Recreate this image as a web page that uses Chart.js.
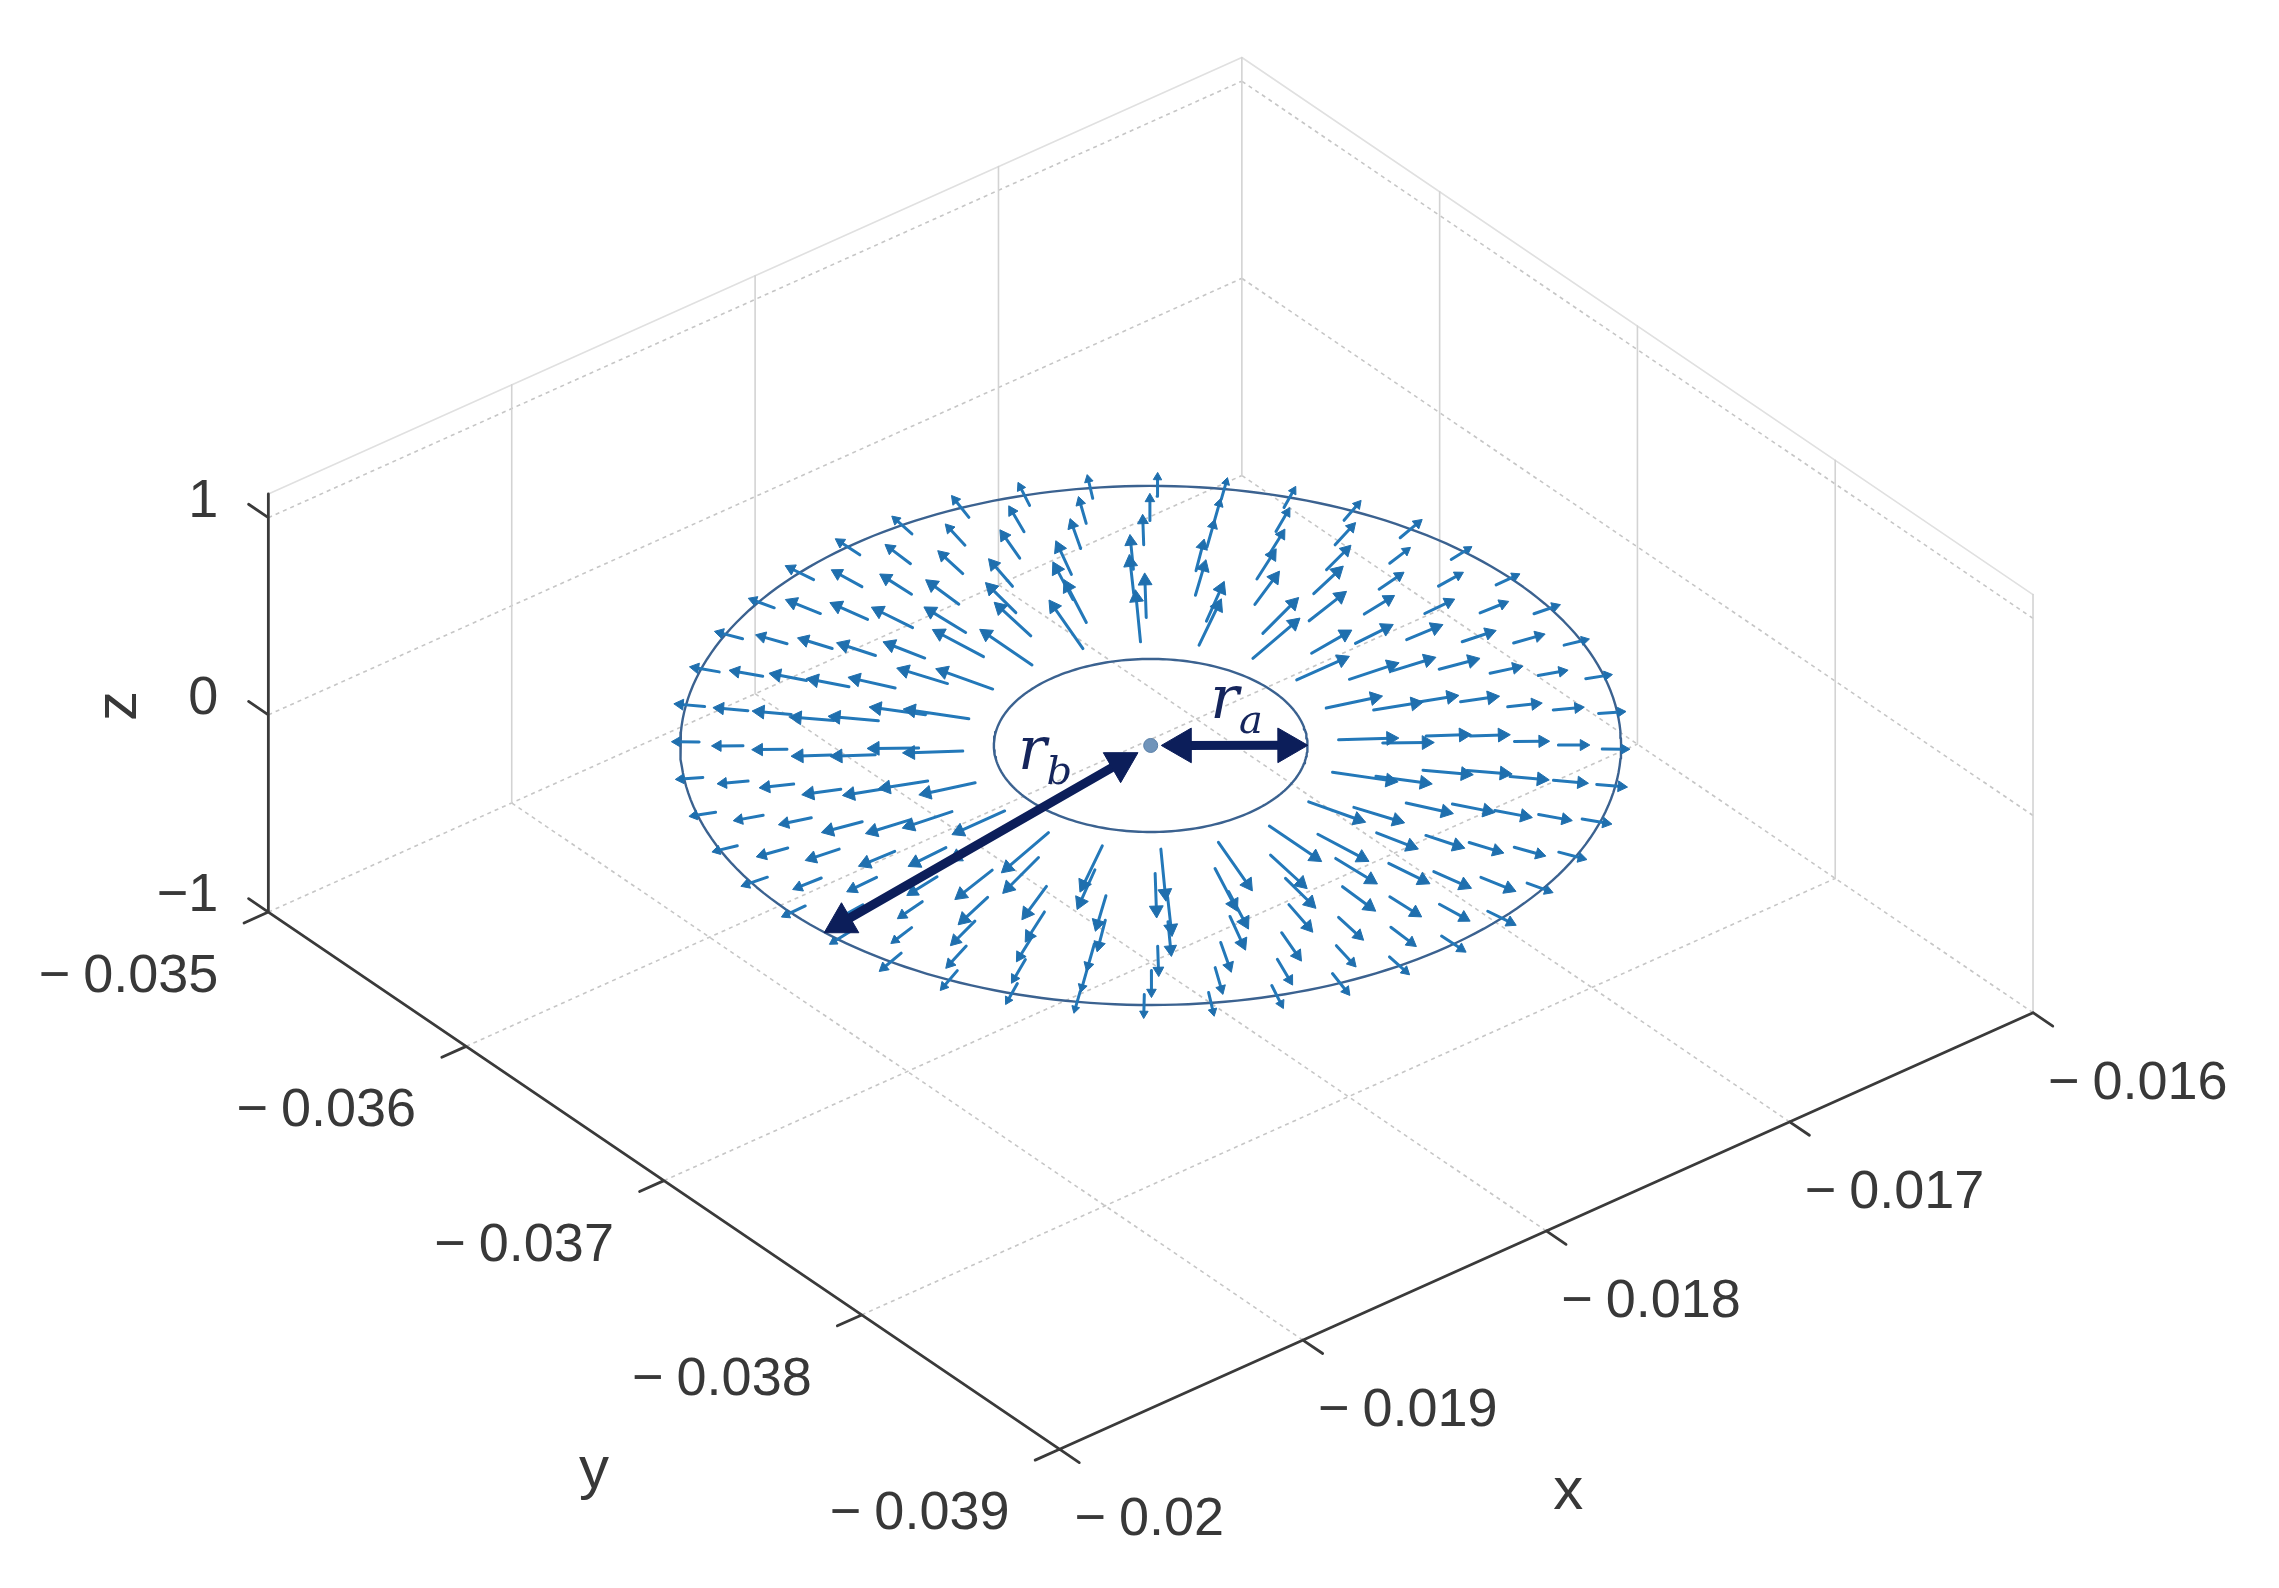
<!DOCTYPE html>
<html><head><meta charset="utf-8">
<script src="https://cdn.jsdelivr.net/npm/chart.js@4.4.1/dist/chart.umd.min.js"></script>
<style>
html,body{margin:0;padding:0;background:#fff;}
#wrap{position:relative;width:2279px;height:1588px;overflow:hidden;background:#fff;}
#c{position:absolute;left:0;top:0;}
.lbl{position:absolute;font-family:"Liberation Sans",Arial,Helvetica,sans-serif;color:#383838;white-space:nowrap;line-height:1;}
.ann{position:absolute;font-family:"DejaVu Serif","Liberation Serif",serif;font-style:italic;color:#15255c;white-space:nowrap;line-height:1;}
.ann sub{font-size:40px;vertical-align:-15px;font-style:italic;}
</style></head><body>
<div id="wrap"><canvas id="c" width="2279" height="1588"></canvas></div>
<script>
// ---------------- data ----------------
const X_LIM = [-0.020, -0.016];
const Y_LIM = [-0.039, -0.035];
const Z_LIM = [-1, 1];
const Z_BOX_TOP = 1.12;
const X_TICKS = [-0.020, -0.019, -0.018, -0.017, -0.016];
const Y_TICKS = [-0.039, -0.038, -0.037, -0.036, -0.035];
const Z_TICKS = [-1, 0, 1];
const X_TICK_LABELS = ['0.02', '0.019', '0.018', '0.017', '0.016'];
const Y_TICK_LABELS = ['0.039', '0.038', '0.037', '0.036', '0.035'];
const Z_TICK_LABELS = ['−1', '0', '1'];
const AXIS_LABELS = ['x', 'y', 'z'];

const DISC_CENTER = [-0.018, -0.037];
const DISC_Z = 0.1;
const R_INNER = 0.0005;
const R_OUTER = 0.0015;

const RING_RADII = [0.00060, 0.00074, 0.00088, 0.00102, 0.00116, 0.00130, 0.00144];
const RING_COUNTS = [20, 24, 28, 32, 36, 40, 44];
const RING_PHASE_DEG = [0, 7, 3, 9, 2, 6, 1];
const RING_ARROW_LEN = [0.00024, 0.000205, 0.00018, 0.00016, 0.00014, 0.000125, 0.00011];
const SECTOR_ANGLE_DEG = [0, 30, 60, 90, 120, 150, 180, 210, 240, 270, 300, 330];
const SECTOR_LEN_FACTOR = [0.9, 1.15, 1.25, 1.1, 0.9, 0.8, 0.9, 1.15, 1.25, 1.1, 0.9, 0.8];

// annotation arrows r_a and r_b
const ANNOT_NAMES = ['a', 'b'];
const ANNOT_ANGLE_DEG = [-39, 187];
const ANNOT_R_START = [0.000035, 0.00006];
const ANNOT_R_END = [R_INNER, R_OUTER];

// ---------------- view ----------------
const VIEW = {az: 39.1, el: 33.8, Lx: 1278, Ly: 1278, Lz: 487.5};
function proj(x, y, z) {
  const xn = (x - X_LIM[0]) / (X_LIM[1] - X_LIM[0]);
  const yn = (y - Y_LIM[0]) / (Y_LIM[1] - Y_LIM[0]);
  const zn = (z - Z_LIM[0]) / (Z_LIM[1] - Z_LIM[0]);
  const a = VIEW.az * Math.PI / 180, e = VIEW.el * Math.PI / 180;
  const u = VIEW.Lx * Math.cos(a) * xn - VIEW.Ly * Math.sin(a) * yn;
  const v = (VIEW.Lx * Math.sin(a) * xn + VIEW.Ly * Math.cos(a) * yn) * Math.sin(e) + VIEW.Lz * Math.cos(e) * zn;
  return {x: u, y: v};
}
const GAP = {x: NaN, y: null};
function seg(arr, p, q) { arr.push(proj(...p), proj(...q), GAP); }

const x0 = X_LIM[0], x1 = X_LIM[1], y0 = Y_LIM[0], y1 = Y_LIM[1], zb = Z_LIM[0];
const TICK = 0.0001;

// grid (dashed, non-vertical)
const gridDashed = [];
X_TICKS.slice(1, -1).forEach(xt => seg(gridDashed, [xt, y0, zb], [xt, y1, zb]));
Y_TICKS.slice(1, -1).forEach(yt => seg(gridDashed, [x0, yt, zb], [x1, yt, zb]));
seg(gridDashed, [x0, y1, zb], [x1, y1, zb]);
seg(gridDashed, [x1, y0, zb], [x1, y1, zb]);
Z_TICKS.slice(1).forEach(zt => { seg(gridDashed, [x0, y1, zt], [x1, y1, zt]); seg(gridDashed, [x1, y0, zt], [x1, y1, zt]); });
// grid vertical (solid)
const gridVert = [];
X_TICKS.slice(1, -1).forEach(xt => seg(gridVert, [xt, y1, zb], [xt, y1, Z_BOX_TOP]));
Y_TICKS.slice(1, -1).forEach(yt => seg(gridVert, [x1, yt, zb], [x1, yt, Z_BOX_TOP]));
seg(gridVert, [x1, y1, zb], [x1, y1, Z_BOX_TOP]);
seg(gridVert, [x1, y0, zb], [x1, y0, Z_BOX_TOP]);
// box top edges
const boxTop = [];
seg(boxTop, [x0, y1, Z_BOX_TOP], [x1, y1, Z_BOX_TOP]);
seg(boxTop, [x1, y0, Z_BOX_TOP], [x1, y1, Z_BOX_TOP]);
// axes + ticks
const axes = [];
seg(axes, [x0, y0, zb], [x1, y0, zb]);
seg(axes, [x0, y0, zb], [x0, y1, zb]);
seg(axes, [x0, y1, zb], [x0, y1, Z_BOX_TOP]);
X_TICKS.forEach(xt => seg(axes, [xt, y0, zb], [xt, y0 - TICK, zb]));
Y_TICKS.forEach(yt => seg(axes, [x0, yt, zb], [x0 - TICK, yt, zb]));
Z_TICKS.forEach(zt => seg(axes, [x0, y1, zt], [x0, y1 + TICK, zt]));

// circles
function circle(r) {
  const pts = [];
  for (let i = 0; i <= 240; i++) {
    const t = 2 * Math.PI * i / 240;
    pts.push(proj(DISC_CENTER[0] + r * Math.cos(t), DISC_CENTER[1] + r * Math.sin(t), DISC_Z));
  }
  return pts;
}
const circles = circle(R_OUTER).concat([GAP], circle(R_INNER));

// quiver: shafts as a line dataset, heads as rotated filled triangles
function sectorFactor(deg) {
  let d = ((deg % 360) + 360) % 360, best = 0, bd = 1e9;
  SECTOR_ANGLE_DEG.forEach((s, i) => { let dd = Math.abs(d - s); dd = Math.min(dd, 360 - dd); if (dd < bd) { bd = dd; best = i; } });
  return SECTOR_LEN_FACTOR[best];
}
const quiver = [], qHeads = [], qHeadRot = [], qHeadR = [];
RING_RADII.forEach((r, i) => {
  const n = RING_COUNTS[i];
  for (let k = 0; k < n; k++) {
    const deg = RING_PHASE_DEG[i] + 360 * k / n;
    const t = deg * Math.PI / 180, c = Math.cos(t), s = Math.sin(t);
    const L = RING_ARROW_LEN[i] * sectorFactor(deg);
    const pT = proj(DISC_CENTER[0] + r * c, DISC_CENTER[1] + r * s, DISC_Z);
    const pH = proj(DISC_CENTER[0] + (r + L) * c, DISC_CENTER[1] + (r + L) * s, DISC_Z);
    const dx = pH.x - pT.x, dy = pH.y - pT.y, len = Math.hypot(dx, dy);
    const R = Math.max(4, Math.min(8, 0.2 * len));
    const ctr = {x: pH.x - dx / len * R, y: pH.y - dy / len * R};
    quiver.push(pT, ctr, GAP);
    qHeads.push(ctr); qHeadRot.push(Math.atan2(dx, dy) * 180 / Math.PI); qHeadR.push(R);
  }
});

// annotation arrows
const HEAD_R = 20;
const annotShaft = [], annotHeads = [], annotRot = [];
ANNOT_NAMES.forEach((nm, i) => {
  const t = ANNOT_ANGLE_DEG[i] * Math.PI / 180, c = Math.cos(t), s = Math.sin(t);
  const pA = proj(DISC_CENTER[0] + ANNOT_R_START[i] * c, DISC_CENTER[1] + ANNOT_R_START[i] * s, DISC_Z);
  const pB = proj(DISC_CENTER[0] + ANNOT_R_END[i] * c, DISC_CENTER[1] + ANNOT_R_END[i] * s, DISC_Z);
  const lenPx = Math.hypot(pB.x - pA.x, pB.y - pA.y);
  const f = HEAD_R / lenPx;
  const cA = {x: pA.x + (pB.x - pA.x) * f, y: pA.y + (pB.y - pA.y) * f};
  const cB = {x: pB.x - (pB.x - pA.x) * f, y: pB.y - (pB.y - pA.y) * f};
  annotShaft.push(cA, cB, GAP);
  const rotB = Math.atan2(pB.x - pA.x, pB.y - pA.y) * 180 / Math.PI;
  annotHeads.push(cB); annotRot.push(rotB);
  annotHeads.push(cA); annotRot.push(rotB + 180);
});
const centerDot = [proj(DISC_CENTER[0], DISC_CENTER[1], DISC_Z)];

// ---------------- chart ----------------
const ORIGIN_PX = {x: 1058, y: 1467};
const W = 2279, H = 1588;
const lineDs = (data, color, width, order, dash, cap) => ({
  data, showLine: true, borderColor: color, borderWidth: width, pointRadius: 0, pointHitRadius: 0,
  borderDash: dash || [], spanGaps: false, order, fill: false, borderCapStyle: cap || 'round',
  borderJoinStyle: 'round', tension: 0
});
const chart = new Chart(document.getElementById('c'), {
  type: 'scatter',
  data: {
    datasets: [
      lineDs(gridDashed, '#c6c6c6', 1.6, 10, [4, 4], 'butt'),
      lineDs(gridVert, '#d3d3d3', 1.6, 9),
      lineDs(boxTop, '#e0e0e0', 1.6, 9),
      lineDs(axes, '#3a3a3a', 2.8, 8),
      lineDs(circles, '#3b6290', 2.4, 5),
      lineDs(quiver, '#2378b9', 3, 4),
      {data: qHeads, showLine: false, pointStyle: 'triangle', pointRadius: qHeadR, pointRotation: qHeadRot,
       backgroundColor: '#1f6fae', borderColor: '#1f6fae', borderWidth: 1, order: 3},
      lineDs(annotShaft, '#0c1e5a', 9, 2, null, 'butt'),
      {data: annotHeads, showLine: false, pointStyle: 'triangle', pointRadius: HEAD_R, pointRotation: annotRot,
       backgroundColor: '#0c1e5a', borderColor: '#0c1e5a', borderWidth: 1, order: 1},
      {data: centerDot, showLine: false, pointStyle: 'circle', pointRadius: 7, backgroundColor: '#7094ba',
       borderColor: '#5a80a8', borderWidth: 1, order: 0}
    ]
  },
  options: {
    responsive: false, animation: false, events: [],
    layout: {padding: 0},
    plugins: {legend: {display: false}, tooltip: {enabled: false}, title: {display: false}},
    scales: {
      x: {type: 'linear', display: false, min: -ORIGIN_PX.x, max: W - ORIGIN_PX.x},
      y: {type: 'linear', display: false, min: -(H - ORIGIN_PX.y), max: ORIGIN_PX.y}
    }
  }
});

// ---------------- text (positioned through the chart scales) ----------------
const wrap = document.getElementById('wrap');
function pix(p) { return [chart.scales.x.getPixelForValue(p.x), chart.scales.y.getPixelForValue(p.y)]; }
function addText(cls, html, p, dx, dy, transform, size) {
  const [px, py] = pix(p);
  const d = document.createElement('div');
  d.className = cls; d.innerHTML = html;
  d.style.left = (px + dx) + 'px'; d.style.top = (py + dy) + 'px';
  d.style.fontSize = size + 'px'; d.style.transform = transform;
  wrap.appendChild(d);
}
const neg = s => '<span style="margin-right:0.24em">−</span>' + s;
X_TICKS.forEach((xt, i) => addText('lbl', neg(X_TICK_LABELS[i]), proj(xt, y0, zb), 15, 67, 'translate(0,-50%)', 54));
Y_TICKS.forEach((yt, i) => addText('lbl', neg(Y_TICK_LABELS[i]), proj(x0, yt, zb), -50, 61, 'translate(-100%,-50%)', 54));
Z_TICKS.forEach((zt, i) => addText('lbl', Z_TICK_LABELS[i], proj(x0, y1, zt), -50, -20, 'translate(-100%,-50%)', 54));
addText('lbl', AXIS_LABELS[0], proj((x0 + x1) / 2, y0, zb), 22, 258, 'translate(-50%,-50%)', 60);
addText('lbl', AXIS_LABELS[1], proj(x0, (y0 + y1) / 2, zb), -70, 287, 'translate(-50%,-50%)', 60);
addText('lbl', AXIS_LABELS[2], proj(x0, y1, 0), -152, -9, 'translate(-50%,-50%) rotate(-90deg)', 60);
// r_a, r_b labels anchored at the arrow midpoints
const ANNOT_LABEL_OFF = [[2, -42], [64, -89]];
ANNOT_NAMES.forEach((nm, i) => {
  const t = ANNOT_ANGLE_DEG[i] * Math.PI / 180;
  const rm = (ANNOT_R_START[i] + ANNOT_R_END[i]) / 2;
  const p = proj(DISC_CENTER[0] + rm * Math.cos(t), DISC_CENTER[1] + rm * Math.sin(t), DISC_Z);
  addText('ann', 'r<sub>' + nm + '</sub>', p, ANNOT_LABEL_OFF[i][0], ANNOT_LABEL_OFF[i][1], 'translate(-50%,-50%)', 60);
});
</script>
</body></html>
